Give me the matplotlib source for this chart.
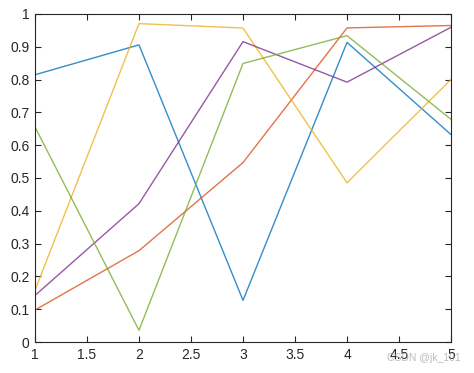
import numpy as np
import matplotlib
matplotlib.use('Agg')
import matplotlib.pyplot as plt

plt.rcParams.update({
    'font.family': ['Liberation Sans', 'DejaVu Sans'],
    'font.size': 10,
})

x = [1, 2, 3, 4, 5]
# columns of rand(5)
s1 = [0.8147, 0.9058, 0.1270, 0.9134, 0.6324]
s2 = [0.0975, 0.2785, 0.5469, 0.9575, 0.9649]
s3 = [0.1576, 0.9706, 0.9572, 0.4854, 0.8003]
s4 = [0.1419, 0.4218, 0.9157, 0.7922, 0.9595]
s5 = [0.6557, 0.0357, 0.8491, 0.9340, 0.6787]
series = [s1, s2, s3, s4, s5]
colors = ['#0072BD', '#D95319', '#EDB120', '#7E2F8E', '#77AC30']

fig = plt.figure(figsize=(4.74, 3.73), dpi=100)
ax = fig.add_axes([0.0738, 0.0831, 0.8777, 0.8794])
for y, c in zip(series, colors):
    ax.plot(x, y, color=c, lw=1.0, alpha=0.8)

ax.set_xlim(1, 5)
ax.set_ylim(0, 1)
ax.set_xticks(np.arange(1, 5.01, 0.5))
ax.set_xticklabels(['1', '1.5', '2', '2.5', '3', '3.5', '4', '4.5', '5'])
ax.set_yticks(np.arange(0, 1.01, 0.1))
ax.set_yticklabels(['0', '0.1', '0.2', '0.3', '0.4', '0.5', '0.6', '0.7', '0.8', '0.9', '1'])
ax.tick_params(direction='in', top=True, right=True, length=4, width=0.8,
               colors='#262626', labelsize=10, pad=4)
for sp in ax.spines.values():
    sp.set_color('#262626')
    sp.set_linewidth(0.8)

# watermark
fig.text(0.973, 0.040, 'CSDN @jk_101', ha='right', va='center', fontsize=7.5,
         color='#aaaaaa', alpha=0.8)

fig.savefig('out.png', dpi=100)
